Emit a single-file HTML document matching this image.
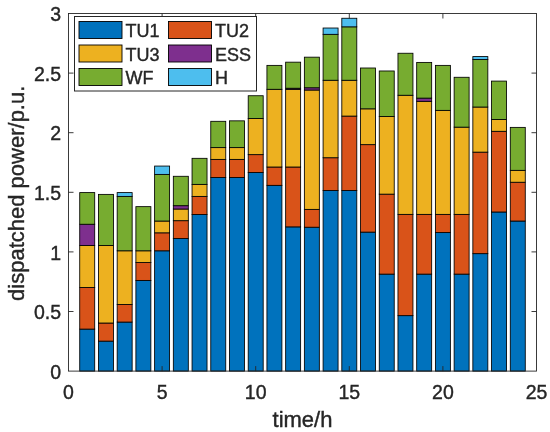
<!DOCTYPE html>
<html><head><meta charset="utf-8"><title>dispatched power</title>
<style>html,body{margin:0;padding:0;background:#fff}svg{display:block}text{font-family:"Liberation Sans",Arial,Helvetica,sans-serif;fill:#262626;stroke:#262626;stroke-width:0.4px}</style></head>
<body>
<svg width="550" height="432" viewBox="0 0 550 432">
<rect width="550" height="432" fill="#fff"/>
<g stroke="#000" stroke-width="0.85">
<rect x="79.73" y="329.09" width="14.98" height="42.01" fill="#0072BD"/>
<rect x="79.73" y="287.44" width="14.98" height="41.65" fill="#D95319"/>
<rect x="79.73" y="245.55" width="14.98" height="41.89" fill="#EDB120"/>
<rect x="79.73" y="224.25" width="14.98" height="21.30" fill="#7E2F8E"/>
<rect x="79.73" y="192.59" width="14.98" height="31.65" fill="#77AC30"/>
<rect x="98.45" y="341.11" width="14.98" height="29.99" fill="#0072BD"/>
<rect x="98.45" y="323.02" width="14.98" height="18.09" fill="#D95319"/>
<rect x="98.45" y="245.55" width="14.98" height="77.47" fill="#EDB120"/>
<rect x="98.45" y="194.38" width="14.98" height="51.17" fill="#77AC30"/>
<rect x="117.17" y="322.07" width="14.98" height="49.03" fill="#0072BD"/>
<rect x="117.17" y="304.45" width="14.98" height="17.61" fill="#D95319"/>
<rect x="117.17" y="250.79" width="14.98" height="53.67" fill="#EDB120"/>
<rect x="117.17" y="196.40" width="14.98" height="54.38" fill="#77AC30"/>
<rect x="117.17" y="192.59" width="14.98" height="3.81" fill="#4DBEEE"/>
<rect x="135.89" y="280.42" width="14.98" height="90.68" fill="#0072BD"/>
<rect x="135.89" y="262.57" width="14.98" height="17.85" fill="#D95319"/>
<rect x="135.89" y="250.79" width="14.98" height="11.78" fill="#EDB120"/>
<rect x="135.89" y="206.64" width="14.98" height="44.15" fill="#77AC30"/>
<rect x="154.61" y="250.79" width="14.98" height="120.31" fill="#0072BD"/>
<rect x="154.61" y="232.82" width="14.98" height="17.97" fill="#D95319"/>
<rect x="154.61" y="221.04" width="14.98" height="11.78" fill="#EDB120"/>
<rect x="154.61" y="174.39" width="14.98" height="46.65" fill="#77AC30"/>
<rect x="154.61" y="166.06" width="14.98" height="8.33" fill="#4DBEEE"/>
<rect x="173.33" y="238.53" width="14.98" height="132.57" fill="#0072BD"/>
<rect x="173.33" y="220.68" width="14.98" height="17.85" fill="#D95319"/>
<rect x="173.33" y="209.02" width="14.98" height="11.66" fill="#EDB120"/>
<rect x="173.33" y="205.69" width="14.98" height="3.33" fill="#7E2F8E"/>
<rect x="173.33" y="176.29" width="14.98" height="29.39" fill="#77AC30"/>
<rect x="192.05" y="214.49" width="14.98" height="156.61" fill="#0072BD"/>
<rect x="192.05" y="196.40" width="14.98" height="18.09" fill="#D95319"/>
<rect x="192.05" y="184.38" width="14.98" height="12.02" fill="#EDB120"/>
<rect x="192.05" y="158.32" width="14.98" height="26.06" fill="#77AC30"/>
<rect x="210.77" y="177.48" width="14.98" height="193.62" fill="#0072BD"/>
<rect x="210.77" y="159.39" width="14.98" height="18.09" fill="#D95319"/>
<rect x="210.77" y="147.61" width="14.98" height="11.78" fill="#EDB120"/>
<rect x="210.77" y="121.31" width="14.98" height="26.30" fill="#77AC30"/>
<rect x="229.49" y="177.48" width="14.98" height="193.62" fill="#0072BD"/>
<rect x="229.49" y="159.39" width="14.98" height="18.09" fill="#D95319"/>
<rect x="229.49" y="147.61" width="14.98" height="11.78" fill="#EDB120"/>
<rect x="229.49" y="120.84" width="14.98" height="26.77" fill="#77AC30"/>
<rect x="248.21" y="172.48" width="14.98" height="198.62" fill="#0072BD"/>
<rect x="248.21" y="154.63" width="14.98" height="17.85" fill="#D95319"/>
<rect x="248.21" y="118.46" width="14.98" height="36.18" fill="#EDB120"/>
<rect x="248.21" y="95.73" width="14.98" height="22.73" fill="#77AC30"/>
<rect x="266.93" y="185.34" width="14.98" height="185.76" fill="#0072BD"/>
<rect x="266.93" y="167.01" width="14.98" height="18.33" fill="#D95319"/>
<rect x="266.93" y="89.30" width="14.98" height="77.71" fill="#EDB120"/>
<rect x="266.93" y="65.38" width="14.98" height="23.92" fill="#77AC30"/>
<rect x="285.65" y="226.87" width="14.98" height="144.23" fill="#0072BD"/>
<rect x="285.65" y="167.01" width="14.98" height="59.86" fill="#D95319"/>
<rect x="285.65" y="89.30" width="14.98" height="77.71" fill="#EDB120"/>
<rect x="285.65" y="88.23" width="14.98" height="1.07" fill="#7E2F8E"/>
<rect x="285.65" y="62.17" width="14.98" height="26.06" fill="#77AC30"/>
<rect x="304.37" y="227.22" width="14.98" height="143.88" fill="#0072BD"/>
<rect x="304.37" y="209.37" width="14.98" height="17.85" fill="#D95319"/>
<rect x="304.37" y="90.02" width="14.98" height="119.36" fill="#EDB120"/>
<rect x="304.37" y="87.76" width="14.98" height="2.26" fill="#7E2F8E"/>
<rect x="304.37" y="57.17" width="14.98" height="30.58" fill="#77AC30"/>
<rect x="323.09" y="190.57" width="14.98" height="180.53" fill="#0072BD"/>
<rect x="323.09" y="157.73" width="14.98" height="32.84" fill="#D95319"/>
<rect x="323.09" y="80.26" width="14.98" height="77.47" fill="#EDB120"/>
<rect x="323.09" y="34.32" width="14.98" height="45.93" fill="#77AC30"/>
<rect x="323.09" y="28.02" width="14.98" height="6.31" fill="#4DBEEE"/>
<rect x="341.81" y="190.57" width="14.98" height="180.53" fill="#0072BD"/>
<rect x="341.81" y="116.08" width="14.98" height="74.49" fill="#D95319"/>
<rect x="341.81" y="80.26" width="14.98" height="35.82" fill="#EDB120"/>
<rect x="341.81" y="26.83" width="14.98" height="53.43" fill="#77AC30"/>
<rect x="341.81" y="18.26" width="14.98" height="8.57" fill="#4DBEEE"/>
<rect x="360.53" y="232.10" width="14.98" height="139.00" fill="#0072BD"/>
<rect x="360.53" y="144.64" width="14.98" height="87.47" fill="#D95319"/>
<rect x="360.53" y="108.82" width="14.98" height="35.82" fill="#EDB120"/>
<rect x="360.53" y="68.00" width="14.98" height="40.82" fill="#77AC30"/>
<rect x="379.25" y="274.11" width="14.98" height="96.99" fill="#0072BD"/>
<rect x="379.25" y="194.14" width="14.98" height="79.97" fill="#D95319"/>
<rect x="379.25" y="116.55" width="14.98" height="77.59" fill="#EDB120"/>
<rect x="379.25" y="70.98" width="14.98" height="45.58" fill="#77AC30"/>
<rect x="397.97" y="315.64" width="14.98" height="55.46" fill="#0072BD"/>
<rect x="397.97" y="214.37" width="14.98" height="101.27" fill="#D95319"/>
<rect x="397.97" y="95.25" width="14.98" height="119.12" fill="#EDB120"/>
<rect x="397.97" y="53.25" width="14.98" height="42.01" fill="#77AC30"/>
<rect x="416.69" y="274.11" width="14.98" height="96.99" fill="#0072BD"/>
<rect x="416.69" y="214.37" width="14.98" height="59.74" fill="#D95319"/>
<rect x="416.69" y="101.32" width="14.98" height="113.05" fill="#EDB120"/>
<rect x="416.69" y="98.11" width="14.98" height="3.21" fill="#7E2F8E"/>
<rect x="416.69" y="62.41" width="14.98" height="35.70" fill="#77AC30"/>
<rect x="435.41" y="232.58" width="14.98" height="138.52" fill="#0072BD"/>
<rect x="435.41" y="214.37" width="14.98" height="18.21" fill="#D95319"/>
<rect x="435.41" y="110.37" width="14.98" height="104.01" fill="#EDB120"/>
<rect x="435.41" y="65.38" width="14.98" height="44.98" fill="#77AC30"/>
<rect x="454.13" y="274.11" width="14.98" height="96.99" fill="#0072BD"/>
<rect x="454.13" y="214.37" width="14.98" height="59.74" fill="#D95319"/>
<rect x="454.13" y="127.15" width="14.98" height="87.23" fill="#EDB120"/>
<rect x="454.13" y="77.28" width="14.98" height="49.86" fill="#77AC30"/>
<rect x="472.85" y="253.64" width="14.98" height="117.46" fill="#0072BD"/>
<rect x="472.85" y="152.13" width="14.98" height="101.51" fill="#D95319"/>
<rect x="472.85" y="107.03" width="14.98" height="45.10" fill="#EDB120"/>
<rect x="472.85" y="59.55" width="14.98" height="47.48" fill="#77AC30"/>
<rect x="472.85" y="56.58" width="14.98" height="2.97" fill="#4DBEEE"/>
<rect x="491.57" y="211.99" width="14.98" height="159.11" fill="#0072BD"/>
<rect x="491.57" y="131.31" width="14.98" height="80.68" fill="#D95319"/>
<rect x="491.57" y="119.53" width="14.98" height="11.78" fill="#EDB120"/>
<rect x="491.57" y="81.09" width="14.98" height="38.44" fill="#77AC30"/>
<rect x="510.29" y="221.04" width="14.98" height="150.06" fill="#0072BD"/>
<rect x="510.29" y="182.24" width="14.98" height="38.79" fill="#D95319"/>
<rect x="510.29" y="170.34" width="14.98" height="11.90" fill="#EDB120"/>
<rect x="510.29" y="127.38" width="14.98" height="42.96" fill="#77AC30"/>
</g>
<g stroke="#262626" stroke-width="0.9" fill="none">
<rect x="68.5" y="13.5" width="468.0" height="357.6"/>
<path d="M162.10 371.1V366.1M162.10 13.5V18.5"/>
<path d="M255.70 371.1V366.1M255.70 13.5V18.5"/>
<path d="M349.30 371.1V366.1M349.30 13.5V18.5"/>
<path d="M442.90 371.1V366.1M442.90 13.5V18.5"/>
<path d="M68.5 311.50H73.5M536.5 311.50H531.5"/>
<path d="M68.5 251.90H73.5M536.5 251.90H531.5"/>
<path d="M68.5 192.30H73.5M536.5 192.30H531.5"/>
<path d="M68.5 132.70H73.5M536.5 132.70H531.5"/>
<path d="M68.5 73.10H73.5M536.5 73.10H531.5"/>
</g>
<g font-size="19.5">
<text x="68.50" y="399" text-anchor="middle">0</text>
<text x="162.10" y="399" text-anchor="middle">5</text>
<text x="255.70" y="399" text-anchor="middle">10</text>
<text x="349.30" y="399" text-anchor="middle">15</text>
<text x="442.90" y="399" text-anchor="middle">20</text>
<text x="536.50" y="399" text-anchor="middle">25</text>
<text x="61" y="378.70" text-anchor="end">0</text>
<text x="61" y="319.10" text-anchor="end">0.5</text>
<text x="61" y="259.50" text-anchor="end">1</text>
<text x="61" y="199.90" text-anchor="end">1.5</text>
<text x="61" y="140.30" text-anchor="end">2</text>
<text x="61" y="80.70" text-anchor="end">2.5</text>
<text x="61" y="21.10" text-anchor="end">3</text>
</g>
<text x="302.5" y="427" font-size="22" text-anchor="middle">time/h</text>
<text transform="translate(24,193.3) rotate(-90)" font-size="22" text-anchor="middle">dispatched power/p.u.</text>
<rect x="74.5" y="16.5" width="182" height="74.5" fill="#fff" stroke="#262626" stroke-width="1"/>
<g font-size="18" stroke-width="0.9">
<rect x="79.0" y="21.5" width="43" height="17" fill="#0072BD" stroke="#000"/>
<text x="125.6" y="37.4">TU1</text>
<rect x="168.5" y="21.5" width="43" height="17" fill="#D95319" stroke="#000"/>
<text x="214.9" y="37.4">TU2</text>
<rect x="79.0" y="45.0" width="43" height="17" fill="#EDB120" stroke="#000"/>
<text x="125.6" y="60.9">TU3</text>
<rect x="168.5" y="45.0" width="43" height="17" fill="#7E2F8E" stroke="#000"/>
<text x="214.9" y="60.9">ESS</text>
<rect x="79.0" y="68.5" width="43" height="17" fill="#77AC30" stroke="#000"/>
<text x="125.6" y="84.3">WF</text>
<rect x="168.5" y="68.5" width="43" height="17" fill="#4DBEEE" stroke="#000"/>
<text x="214.9" y="84.3">H</text>
</g>
</svg>
</body></html>
